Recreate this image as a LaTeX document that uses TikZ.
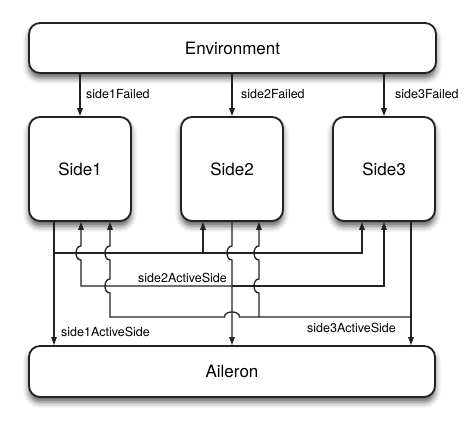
\documentclass[tikz,border=0pt]{standalone}
\usepackage{fontspec}
\setmainfont{TeX Gyre Heros}
\usetikzlibrary{arrows.meta,calc,shadows.blur}
\definecolor{ink}{HTML}{222222}
\newcommand\vup[1]{-- ($(#1)+(0,7)$) .. controls ($(#1)+(-6.7,7)$) and ($(#1)+(-6.7,-7)$) .. ($(#1)+(0,-7)$)}
\newcommand\vdown[1]{-- ($(#1)+(0,-7)$) .. controls ($(#1)+(-6.7,-7)$) and ($(#1)+(-6.7,7)$) .. ($(#1)+(0,7)$)}
\newcommand\hleft[1]{-- ($(#1)+(7.5,0)$) .. controls ($(#1)+(7.5,-6.7)$) and ($(#1)+(-7.5,-6.7)$) .. ($(#1)+(-7.5,0)$)}
\begin{document}
\begin{tikzpicture}[x=1pt,y=-1pt,
  box/.style={draw=ink,line width=1.8pt,rounded corners=11pt,fill=white,inner sep=0pt,
    font=\fontsize{17}{20}\selectfont,
    blur shadow={shadow xshift=0pt,shadow yshift=-5pt,shadow blur radius=6pt,shadow opacity=65}},
  conn/.style={line width=1.3pt,draw=ink},
  arr/.style={conn,-{Triangle[length=8pt,width=5.5pt]}},
  lbl/.style={font=\fontsize{12.5}{15}\selectfont,inner sep=0pt,anchor=west}]
\useasboundingbox (0,0) rectangle (474,431);
\node[box,minimum width=407pt,minimum height=50pt] (env) at (232.5,48) {Environment};
\node[box,minimum width=102pt,minimum height=104pt] (s1) at (80,169) {Side1};
\node[box,minimum width=102pt,minimum height=104pt] (s2) at (232,169) {Side2};
\node[box,minimum width=102pt,minimum height=104pt] (s3) at (384,169) {Side3};
\node[box,minimum width=406pt,minimum height=51pt] (ail) at (232,371.5) {Aileron};
% failed signals
\draw[arr] (env.south -| s1) -- (s1.north);
\draw[arr] (env.south -| s2) -- (s2.north);
\draw[arr] (env.south -| s3) -- (s3.north);
\node[lbl] (l1f) at (86,94) {side1Failed};
\node[lbl] (l2f) at (241,94) {side2Failed};
\node[lbl] (l3f) at (395,94) {side3Failed};
% grid
\coordinate (xA) at (54,0);
\coordinate (xB) at (81,0);
\coordinate (xC) at (110,0);
\coordinate (xD) at (203,0);
\coordinate (xE) at (232,0);
\coordinate (xF) at (259,0);
\coordinate (xG) at (362,0);
\coordinate (xH) at (384,0);
\coordinate (xI) at (411,0);
\coordinate (yA) at (0,253);
\coordinate (yB) at (0,286);
\coordinate (yC) at (0,317);
\coordinate (j1) at (xA |- yA);
\coordinate (j2) at (xE |- yB);
\coordinate (j3) at (xI |- yC);
\coordinate (kBA) at (xB |- yA);
\coordinate (kCA) at (xC |- yA);
\coordinate (kCB) at (xC |- yB);
\coordinate (kEA) at (xE |- yA);
\coordinate (kEC) at (xE |- yC);
\coordinate (kFA) at (xF |- yA);
\coordinate (kFB) at (xF |- yB);
\coordinate (tD) at (xD |- yA);
\coordinate (tF) at (xF |- yC);
% side1ActiveSide
\draw[arr] (s1.south -| xA) -- (ail.north -| xA);
\draw[arr] (j1) -- (xG |- yA) -- (s3.south -| xG);
\draw[arr] (tD) -- (s2.south -| xD);
% side2ActiveSide
\draw[arr] (s2.south -| xE) \vdown{kEA} -- (ail.north -| xE);
\draw[arr] (j2) -- (xB |- yB) \vup{kBA} -- (s1.south -| xB);
\draw[arr] (j2) -- (xH |- yB) -- (s3.south -| xH);
% side3ActiveSide
\draw[arr] (s3.south -| xI) -- (ail.north -| xI);
\draw[arr] (j3) \hleft{kEC} -- (xC |- yC) \vup{kCB} \vup{kCA} -- (s1.south -| xC);
\draw[arr] (tF) \vup{kFB} \vup{kFA} -- (s2.south -| xF);
\node[lbl] (l2a) at (138,278) {side2ActiveSide};
\node[lbl] (l1a) at (61,332) {side1ActiveSide};
\node[lbl] (l3a) at (307,328) {side3ActiveSide};
\end{tikzpicture}
\end{document}
